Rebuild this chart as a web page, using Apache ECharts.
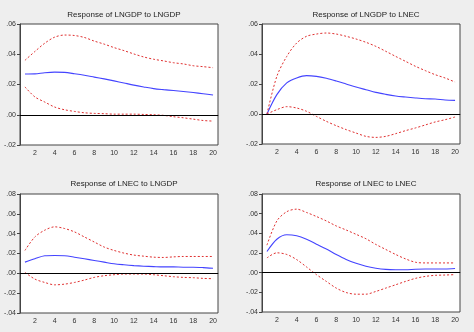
<!DOCTYPE html>
<html><head><meta charset="utf-8">
<script src="https://cdn.jsdelivr.net/npm/echarts@6/dist/echarts.min.js"></script>
<style>html,body{margin:0;padding:0;background:#eeeeee}#c{width:474px;height:332px}</style>
</head><body><div id="c"></div>
<script>
const periods = ['1','2','3','4','5','6','7','8','9','10','11','12','13','14','15','16','17','18','19','20'];
const titles = ['Response of LNGDP to LNGDP','Response of LNGDP to LNEC','Response of LNEC to LNGDP','Response of LNEC to LNEC'];

const gdpGdpMid = [0.0269,0.0270,0.0278,0.0282,0.0280,0.0271,0.0261,0.0249,0.0237,0.0224,0.0210,0.0196,0.0184,0.0173,0.0166,0.0160,0.0154,0.0147,0.0139,0.0131];
const gdpGdpUp  = [0.0360,0.0418,0.0473,0.0513,0.0527,0.0524,0.0511,0.0487,0.0467,0.0444,0.0424,0.0402,0.0382,0.0367,0.0356,0.0344,0.0336,0.0324,0.0318,0.0311];
const gdpGdpLo  = [0.0184,0.0118,0.0084,0.0051,0.0033,0.0022,0.0013,0.0009,0.0007,0.0004,0.0004,0.0004,0.0002,0.0000,-0.0004,-0.0013,-0.0020,-0.0029,-0.0038,-0.0042];

const gdpEcMid = [0.0000,0.0129,0.0207,0.0240,0.0256,0.0251,0.0238,0.0220,0.0200,0.0180,0.0162,0.0144,0.0131,0.0120,0.0113,0.0107,0.0102,0.0100,0.0093,0.0091];
const gdpEcUp  = [0.0000,0.0251,0.0384,0.0473,0.0518,0.0533,0.0540,0.0533,0.0518,0.0500,0.0478,0.0451,0.0418,0.0384,0.0351,0.0318,0.0289,0.0262,0.0240,0.0213];
const gdpEcLo  = [0.0000,0.0029,0.0049,0.0040,0.0018,-0.0016,-0.0049,-0.0078,-0.0104,-0.0127,-0.0149,-0.0156,-0.0149,-0.0131,-0.0111,-0.0093,-0.0073,-0.0053,-0.0038,-0.0020];

const ecGdpMid = [0.0113,0.0147,0.0177,0.0180,0.0177,0.0163,0.0147,0.0130,0.0113,0.0096,0.0086,0.0078,0.0072,0.0068,0.0065,0.0065,0.0062,0.0062,0.0058,0.0051];
const ecGdpUp  = [0.0231,0.0367,0.0435,0.0469,0.0452,0.0418,0.0367,0.0316,0.0265,0.0231,0.0204,0.0184,0.0173,0.0163,0.0160,0.0166,0.0170,0.0170,0.0170,0.0170];
const ecGdpLo  = [0.0010,-0.0058,-0.0092,-0.0116,-0.0109,-0.0092,-0.0068,-0.0041,-0.0024,-0.0014,-0.0007,-0.0007,-0.0007,-0.0014,-0.0024,-0.0034,-0.0041,-0.0044,-0.0051,-0.0054];

const ecEcMid = [0.0215,0.0340,0.0385,0.0375,0.0340,0.0290,0.0240,0.0185,0.0135,0.0095,0.0065,0.0045,0.0033,0.0030,0.0030,0.0035,0.0037,0.0037,0.0037,0.0042];
const ecEcUp  = [0.0280,0.0526,0.0620,0.0646,0.0612,0.0571,0.0526,0.0475,0.0434,0.0390,0.0345,0.0287,0.0236,0.0185,0.0140,0.0106,0.0099,0.0099,0.0099,0.0099];
const ecEcLo  = [0.0150,0.0202,0.0185,0.0133,0.0058,-0.0020,-0.0089,-0.0157,-0.0202,-0.0219,-0.0219,-0.0191,-0.0157,-0.0123,-0.0089,-0.0058,-0.0038,-0.0027,-0.0024,-0.0020];

const yMins = [-0.02,-0.02,-0.04,-0.04];
const yMaxs = [0.06,0.06,0.08,0.08];
const panels = [[gdpGdpMid,gdpGdpUp,gdpGdpLo],[gdpEcMid,gdpEcUp,gdpEcLo],[ecGdpMid,ecGdpUp,ecGdpLo],[ecEcMid,ecEcUp,ecEcLo]];

const grids = [
  {left:20, top:24, width:198, height:121},
  {left:262, top:24, width:198, height:120},
  {left:20, top:194, width:198, height:119},
  {left:262, top:194, width:198, height:118}
];
const titlePos = [[119,6],[361,6],[119,175],[361,175]];

function fmt(v){
  const s = Math.abs(v).toFixed(2).replace(/^0/,'');
  return (v < -1e-9 ? '-' : '') + s;
}
const font = 'Liberation Sans, Arial, sans-serif';
const opt = {animation:false, backgroundColor:'#eeeeee', title:[], grid:[], xAxis:[], yAxis:[], series:[]};
for (let i=0;i<4;i++){
  opt.title.push({text:titles[i], left:titlePos[i][0], top:titlePos[i][1], textAlign:'center',
    textStyle:{fontFamily:font, fontSize:8, fontWeight:'normal', color:'#222'}});
  opt.grid.push(Object.assign({show:true, backgroundColor:'#ffffff', borderColor:'#444', borderWidth:1}, grids[i]));
  opt.xAxis.push({type:'category', gridIndex:i, data:periods, boundaryGap:true,
    axisLine:{lineStyle:{color:'#444'}}, axisTick:{alignWithLabel:true, interval:0, length:3, lineStyle:{color:'#444'}},
    axisLabel:{interval:(idx)=>idx%2===1, fontFamily:font, fontSize:7, color:'#333', margin:5}, splitLine:{show:false}});
  opt.yAxis.push({type:'value', gridIndex:i, min:yMins[i], max:yMaxs[i], interval:0.02,
    axisLine:{show:true, lineStyle:{color:'#444'}}, axisTick:{show:true, length:3, lineStyle:{color:'#444'}},
    axisLabel:{formatter:fmt, fontFamily:font, fontSize:7, color:'#333', margin:4}, splitLine:{show:false}});
  const [mid,up,lo] = panels[i];
  opt.series.push({type:'line', xAxisIndex:i, yAxisIndex:i, data:mid, symbol:'none', smooth:0.3,
    lineStyle:{color:'#4444ff', width:1.1},
    markLine:{silent:true, symbol:'none', label:{show:false}, lineStyle:{color:'#000', type:'solid', width:1}, data:[{yAxis:0}]}});
  opt.series.push({type:'line', xAxisIndex:i, yAxisIndex:i, data:up, symbol:'none', smooth:0.3,
    lineStyle:{color:'#e03030', width:1, type:[2,2]}});
  opt.series.push({type:'line', xAxisIndex:i, yAxisIndex:i, data:lo, symbol:'none', smooth:0.3,
    lineStyle:{color:'#e03030', width:1, type:[2,2]}});
}
echarts.init(document.getElementById('c')).setOption(opt);
</script></body></html>
